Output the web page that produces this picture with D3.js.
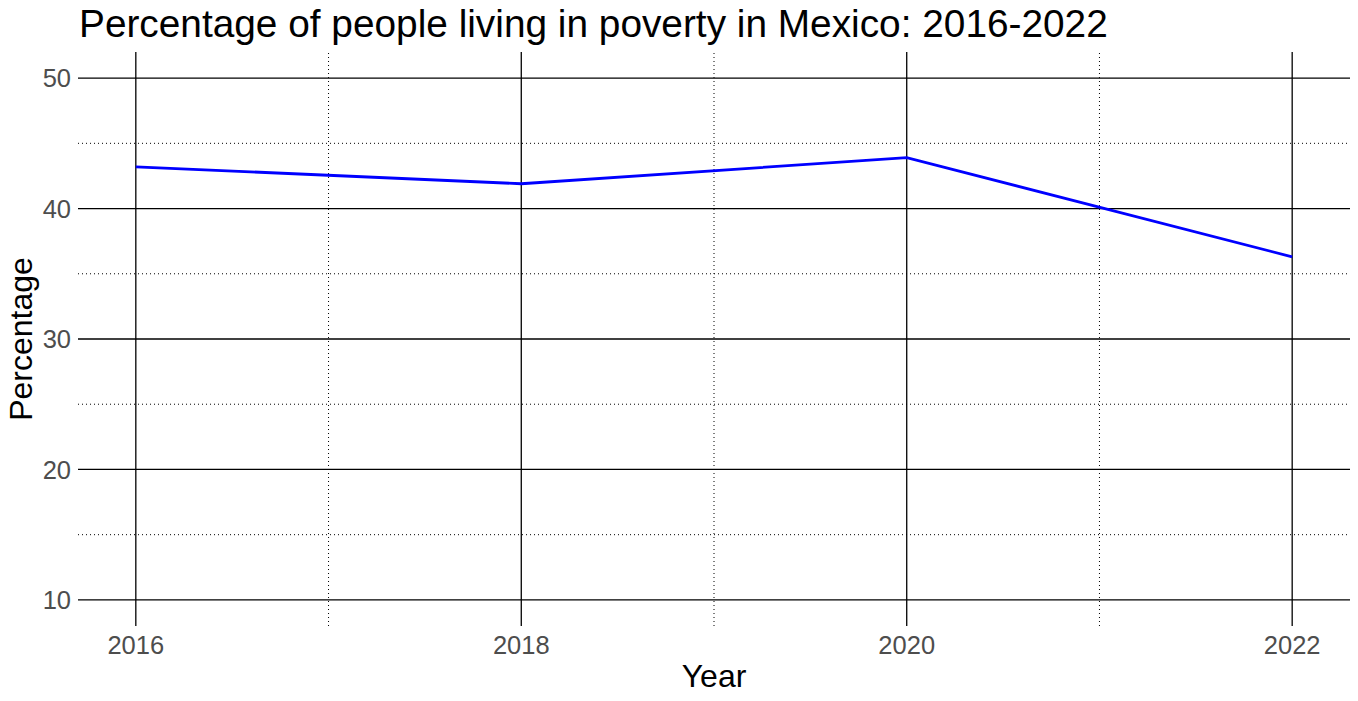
<!DOCTYPE html>
<html>
<head>
<meta charset="utf-8">
<script src="https://cdn.jsdelivr.net/npm/d3@7"></script>
<style>
  body { margin: 0; background: #fff; }
  text { font-family: "Liberation Sans", Arial, sans-serif; }
</style>
</head>
<body>
<svg id="chart" width="1358" height="701"></svg>
<script>
// data
const years = [2016, 2018, 2020, 2022];
const poverty = [43.2, 41.9, 43.9, 36.3];
const yMajor = [10, 20, 30, 40, 50];
const yMinor = [15, 25, 35, 45];
const xMinor = [2017, 2019, 2021];

const width = 1358, height = 701;
const margin = { top: 52, right: 8, bottom: 75, left: 78 };

const svg = d3.select("#chart");

const x = d3.scaleLinear()
    .domain([2015.7, 2022.3])
    .range([margin.left, width - margin.right]);
const y = d3.scaleLinear()
    .domain([8, 52])
    .range([height - margin.bottom, margin.top]);

const grid = svg.append("g");

// minor grid, dotted
grid.selectAll("line.ymin").data(yMinor).enter().append("line")
    .attr("x1", x.range()[0]).attr("x2", x.range()[1])
    .attr("y1", d => y(d)).attr("y2", d => y(d))
    .attr("stroke", "#000").attr("stroke-width", 1)
    .attr("stroke-dasharray", "1,3");
grid.selectAll("line.xmin").data(xMinor).enter().append("line")
    .attr("y1", y.range()[0]).attr("y2", y.range()[1])
    .attr("x1", d => x(d)).attr("x2", d => x(d))
    .attr("stroke", "#000").attr("stroke-width", 1)
    .attr("stroke-dasharray", "1,3");

// major grid
grid.selectAll("line.ymaj").data(yMajor).enter().append("line")
    .attr("x1", x.range()[0]).attr("x2", x.range()[1])
    .attr("y1", d => y(d)).attr("y2", d => y(d))
    .attr("stroke", "#000").attr("stroke-width", 1.3);
grid.selectAll("line.xmaj").data(years).enter().append("line")
    .attr("y1", y.range()[0]).attr("y2", y.range()[1])
    .attr("x1", d => x(d)).attr("x2", d => x(d))
    .attr("stroke", "#000").attr("stroke-width", 1.3);

// the series
const line = d3.line()
    .x((d, i) => x(years[i]))
    .y(d => y(d));
svg.append("path")
    .datum(poverty)
    .attr("d", line)
    .attr("fill", "none")
    .attr("stroke", "#0000ff")
    .attr("stroke-width", 2.8);

// tick labels
svg.selectAll("text.ylab").data(yMajor).enter().append("text")
    .attr("x", margin.left - 7)
    .attr("y", d => y(d))
    .attr("dy", "0.36em")
    .attr("text-anchor", "end")
    .attr("font-size", "25.5px")
    .attr("fill", "#4d4d4d")
    .text(d => d);
svg.selectAll("text.xlab").data(years).enter().append("text")
    .attr("x", d => x(d))
    .attr("y", 654)
    .attr("text-anchor", "middle")
    .attr("font-size", "25.5px")
    .attr("fill", "#4d4d4d")
    .text(d => d);

// axis titles
svg.append("text")
    .attr("x", (x.range()[0] + x.range()[1]) / 2)
    .attr("y", 687)
    .attr("text-anchor", "middle")
    .attr("font-size", "32px")
    .attr("fill", "#000")
    .text("Year");
svg.append("text")
    .attr("transform", `translate(32, ${(y.range()[0] + y.range()[1]) / 2}) rotate(-90)`)
    .attr("text-anchor", "middle")
    .attr("font-size", "32px")
    .attr("fill", "#000")
    .text("Percentage");

// title
svg.append("text")
    .attr("x", margin.left + 1)
    .attr("y", 37)
    .attr("font-size", "38.8px")
    .attr("fill", "#000")
    .text("Percentage of people living in poverty in Mexico: 2016-2022");
</script>
</body>
</html>
